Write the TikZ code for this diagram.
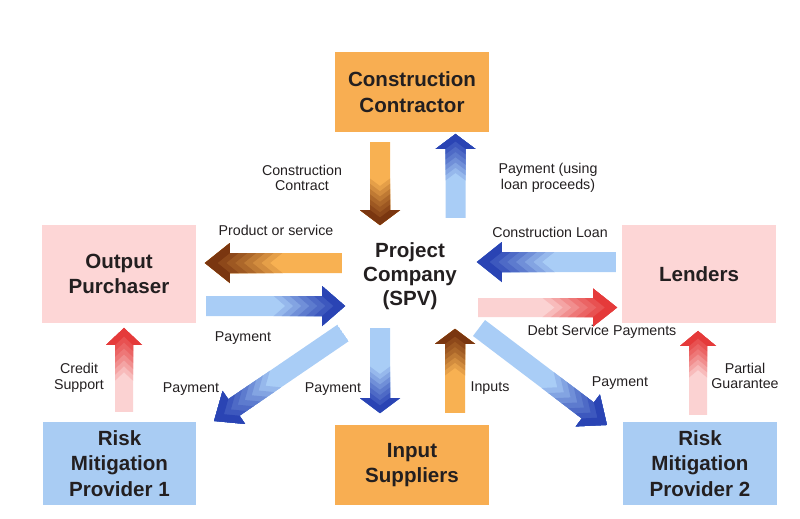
\documentclass[tikz,border=0pt]{standalone}
\usepackage{fontspec}
\setmainfont{Liberation Sans}

\definecolor{boxorange}{HTML}{F8AE52}
\definecolor{boxpink}{HTML}{FDD6D6}
\definecolor{boxblue}{HTML}{A9CCF3}
\definecolor{inkgray}{HTML}{231F20}
\definecolor{orangeL}{HTML}{F8B152}
\definecolor{orangeD}{HTML}{7A3610}
\definecolor{blueL}{HTML}{A9CDF6}
\definecolor{blueD}{HTML}{2A44B4}
\definecolor{redL}{HTML}{FBD2D2}
\definecolor{redD}{HTML}{E53A3A}

\tikzset{
  partybox/.style={align=center, text=inkgray, minimum width=3.08cm,
    font=\bfseries\fontsize{11.7}{14.5}\selectfont},
  flowlabel/.style={align=center, text=inkgray, inner sep=0pt,
    font=\fontsize{8.1}{8.8}\selectfont}
}

% fat arrow with darkening chevrons towards the head
% #1 half shaft width, #2 from, #3 to, #4 light, #5 dark, #6 head length (px)
\newcommand{\flowarrow}[6][10]{%
  \pgfpointdiff{\pgfpointanchor{#2}{center}}{\pgfpointanchor{#3}{center}}%
  \pgfgetlastxy{\arrdx}{\arrdy}%
  \pgfmathsetmacro\arrang{atan2(\arrdy,\arrdx)}%
  \pgfmathsetmacro\arrlen{veclen(\arrdx,\arrdy)/0.569055}%
  \pgfmathsetmacro\arrbase{\arrlen-#6}%
  \begin{scope}[shift={(#2)}, rotate=\arrang, x=0.02cm, y=0.02cm]
    \clip (0,-#1) -- (\arrbase,-#1) -- (\arrbase,-2*#1) -- (\arrlen,0)
      -- (\arrbase,2*#1) -- (\arrbase,#1) -- (0,#1) -- cycle;
    \fill[#4] (0,-2*#1) rectangle (\arrlen,2*#1);
    \foreach \k/\pct in {0/15,1/30,2/45,3/60,4/72,5/85,6/100} {
      \pgfmathsetmacro\cx{\arrbase+(-1.6+\k*0.35)*#6}
      \fill[#5!\pct!#4] (\cx-1.5*#6,-3*#1) -- (\cx,0) -- (\cx-1.5*#6,3*#1)
        -- (\arrlen+5,3*#1) -- (\arrlen+5,-3*#1) -- cycle;
    }
  \end{scope}%
}

\begin{document}
\begin{tikzpicture}[x=0.02cm, y=-0.02cm]
      \useasboundingbox (0, 0) rectangle (800, 518);

      % parties
      \draw (412, 92) node[partybox, fill=boxorange, minimum height=1.6cm] (contractor) {Construction\\Contractor};
      \draw (119, 274) node[partybox, fill=boxpink, minimum height=1.96cm] (purchaser) {Output\\Purchaser};
      \draw (699, 274) node[partybox, fill=boxpink, minimum height=1.96cm] (lenders) {Lenders};
      \draw (410, 276) node[partybox, font=\bfseries\fontsize{11.7}{13.8}\selectfont] (spv) {Project\\Company\\(SPV)};
      \draw (119.5, 463.5) node[partybox, fill=boxblue, minimum width=3.06cm, minimum height=1.66cm] (risk1) {Risk\\Mitigation\\Provider 1};
      \draw (412, 465) node[partybox, fill=boxorange, minimum height=1.6cm] (suppliers) {Input\\Suppliers};
      \draw (700, 463.5) node[partybox, fill=boxblue, minimum height=1.66cm] (risk2) {Risk\\Mitigation\\Provider 2};

      % arrow ends
      \coordinate (contractA) at (380, 142);
      \coordinate (contractB) at (380, 225);
      \coordinate (loanpayA) at (455.5, 218);
      \coordinate (loanpayB) at (455.5, 134);
      \coordinate (productA) at (342, 263);
      \coordinate (productB) at (205, 263);
      \coordinate (purchpayA) at (206, 306);
      \coordinate (purchpayB) at (345, 306);
      \coordinate (loanA) at (616, 262);
      \coordinate (loanB) at (477, 262);
      \coordinate (debtA) at (478, 307.5);
      \coordinate (debtB) at (617, 307.5);
      \coordinate (creditA) at (124, 412);
      \coordinate (creditB) at (124, 328);
      \coordinate (guarA) at (698, 415);
      \coordinate (guarB) at (698, 331);
      \coordinate (inpayA) at (380, 328);
      \coordinate (inpayB) at (380, 413);
      \coordinate (inputsA) at (455, 413);
      \coordinate (inputsB) at (455, 329);
      \coordinate (riskpayA) at (343, 333);
      \coordinate (riskpayB) at (214, 421);
      \coordinate (riskpayC) at (479, 328);
      \coordinate (riskpayD) at (607, 425);

      \flowarrow{contractA}{contractB}{orangeL}{orangeD}{15}
      \flowarrow{loanpayA}{loanpayB}{blueL}{blueD}{15}
      \flowarrow{productA}{productB}{orangeL}{orangeD}{25}
      \flowarrow{purchpayA}{purchpayB}{blueL}{blueD}{23}
      \flowarrow{loanA}{loanB}{blueL}{blueD}{25}
      \flowarrow[9.5]{debtA}{debtB}{redL}{redD}{24}
      \flowarrow[9]{creditA}{creditB}{redL}{redD}{17}
      \flowarrow[9]{guarA}{guarB}{redL}{redD}{15}
      \flowarrow{inpayA}{inpayB}{blueL}{blueD}{15}
      \flowarrow{inputsA}{inputsB}{orangeL}{orangeD}{15}
      \flowarrow{riskpayA}{riskpayB}{blueL}{blueD}{24}
      \flowarrow{riskpayC}{riskpayD}{blueL}{blueD}{24}

      % flow labels
      \draw (302, 178) node[flowlabel] (lcontract) {Construction\\Contract};
      \draw (548, 178) node[flowlabel] (lloanpay) {Payment (using\\loan proceeds)};
      \draw (276, 230) node[flowlabel] (lproduct) {Product or service};
      \draw (550, 232) node[flowlabel] (lloan) {Construction Loan};
      \draw (243, 338) node[flowlabel] (lpurchpay) {Payment};
      \draw (602, 332) node[flowlabel] (ldebt) {Debt Service Payments};
      \draw (79, 378) node[flowlabel] (lcredit) {Credit\\Support};
      \draw (191, 389) node[flowlabel] (lriskpay1) {Payment};
      \draw (333, 389) node[flowlabel] (linpay) {Payment};
      \draw (490, 388) node[flowlabel] (linputs) {Inputs};
      \draw (620, 383) node[flowlabel] (lriskpay2) {Payment};
      \draw (745, 376) node[flowlabel] (lguar) {Partial\\Guarantee};
\end{tikzpicture}
\end{document}
